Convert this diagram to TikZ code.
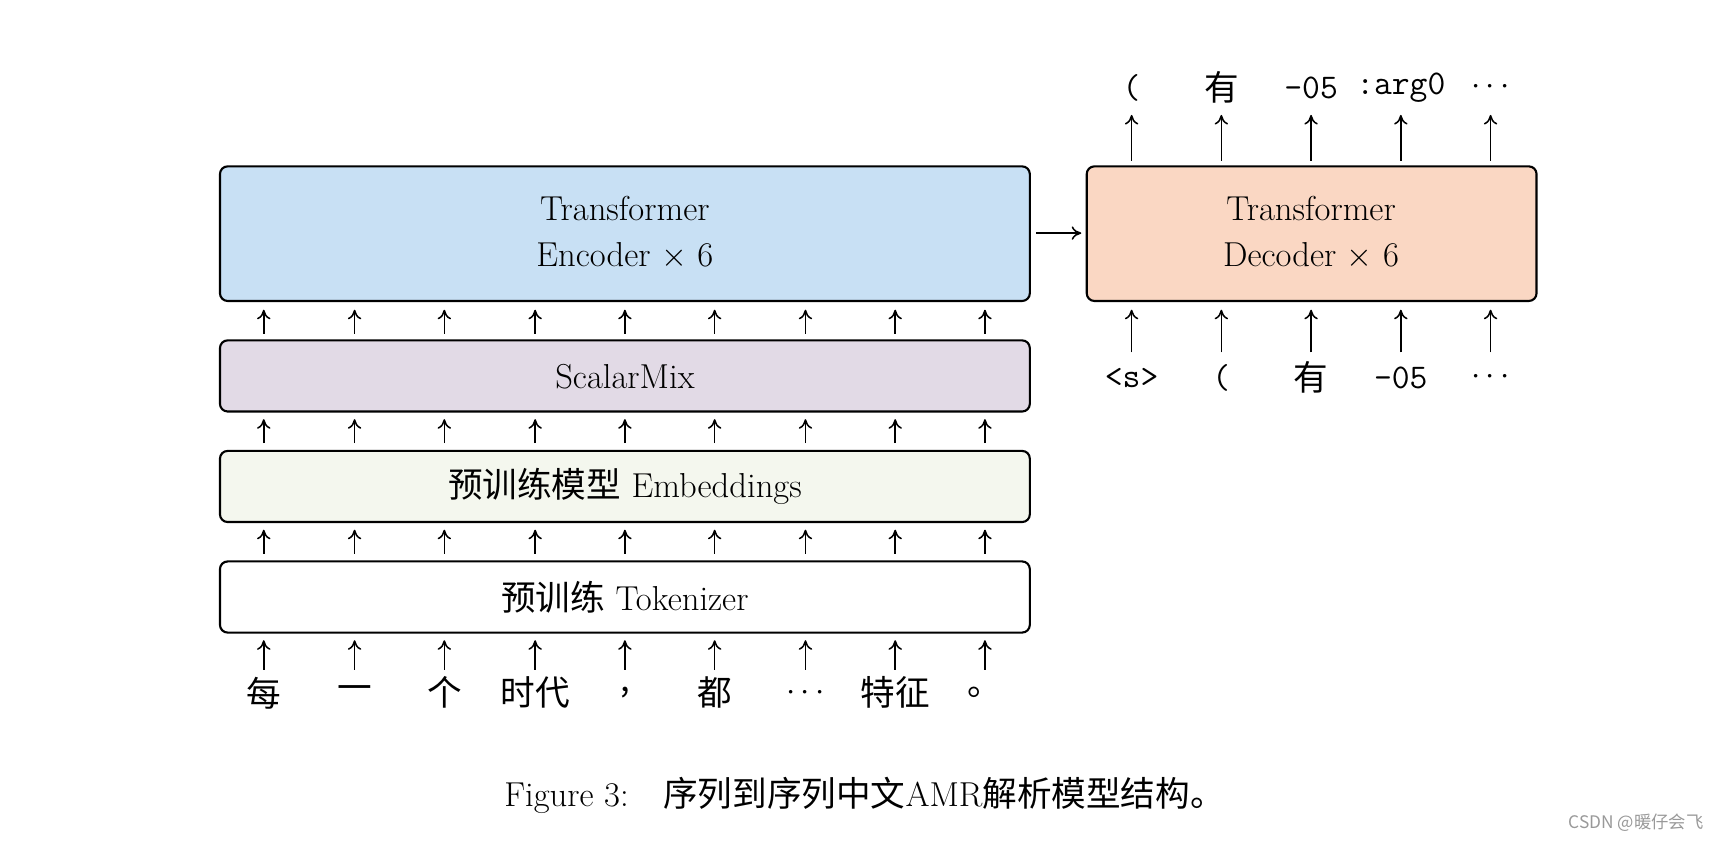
\documentclass[tikz,border=0pt]{standalone}
\usepackage{fontspec}
\newfontfamily\cjk{Noto Sans CJK SC}
\usetikzlibrary{arrows.meta}
\definecolor{encB}{RGB}{200,224,244}
\definecolor{decB}{RGB}{250,215,195}
\definecolor{mixB}{RGB}{226,218,230}
\definecolor{embB}{RGB}{244,247,238}
\begin{document}
\begin{tikzpicture}[x=0.02cm,y=-0.02cm,
  box/.style={draw=black,line width=1.1pt,rounded corners=4pt},
  ar/.style={-{To[length=5pt,width=7pt]},line width=0.8pt},
  txt/.style={font=\fontsize{18}{22}\selectfont,align=center,inner sep=0pt},
  tt/.style={font=\fontsize{18}{22}\selectfont\ttfamily,inner sep=0pt}]
\useasboundingbox (0,0) rectangle (1568,769);
\draw[box,fill=encB] (201,152) rectangle (941,275);
\node[txt] (enc) at (571,213) {Transformer\\[2pt]Encoder $\times$ 6};
\draw[box,fill=decB] (993,152) rectangle (1404,275);
\node[txt] (dec) at (1198,213) {Transformer\\[2pt]Decoder $\times$ 6};
\draw[box,fill=mixB] (201,311) rectangle (941,376);
\node[txt] (mix) at (571,344) {ScalarMix};
\draw[box,fill=embB] (201,412) rectangle (941,477);
\node[txt] (emb) at (571,444) {{\cjk 预训练模型} Embeddings};
\draw[box,fill=white] (201,513) rectangle (941,578);
\node[txt] (tok) at (571,546) {{\cjk 预训练} Tokenizer};
\coordinate (ea) at (947,213); \coordinate (eb) at (988,213);
\draw[ar] (ea) -- (eb);
\foreach \x/\w [count=\i] in {241/每,324/一,406/个,489/时代,571/{,},653/都,736/$\cdots$,818/特征,900/。}{
  \node[txt,font=\fontsize{18}{22}\selectfont\cjk] (w\i) at (\x,633) {\w};
  \foreach \a/\b in {612/585,506/484,405/383,305/283}{
    \coordinate (p\i\a) at (\x,\a); \coordinate (q\i\a) at (\x,\b);
    \draw[ar] (p\i\a) -- (q\i\a);}
}
\foreach \x/\w [count=\i] in {1034/{(},1116/{\cjk 有},1198/-05,1280/:arg0,1362/$\cdots$}{
  \node[tt] (o\i) at (\x,80) {\w};
  \coordinate (oa\i) at (\x,147); \coordinate (ob\i) at (\x,105);
  \draw[ar] (oa\i) -- (ob\i);}
\foreach \x/\w [count=\i] in {1034/{<s>},1116/{(},1198/{\cjk 有},1280/-05,1362/$\cdots$}{
  \node[tt] (d\i) at (\x,345) {\w};
  \coordinate (da\i) at (\x,322); \coordinate (db\i) at (\x,283);
  \draw[ar] (da\i) -- (db\i);}
\node[txt] (cap) at (790,727) {Figure 3:\quad{\cjk 序列到序列中文}AMR{\cjk 解析模型结构。}};
\node[font=\fontsize{9}{11}\selectfont\sffamily\cjk,text=gray!80,inner sep=0pt] (wm) at (1495,752) {CSDN @暖仔会飞};
\end{tikzpicture}
\end{document}
